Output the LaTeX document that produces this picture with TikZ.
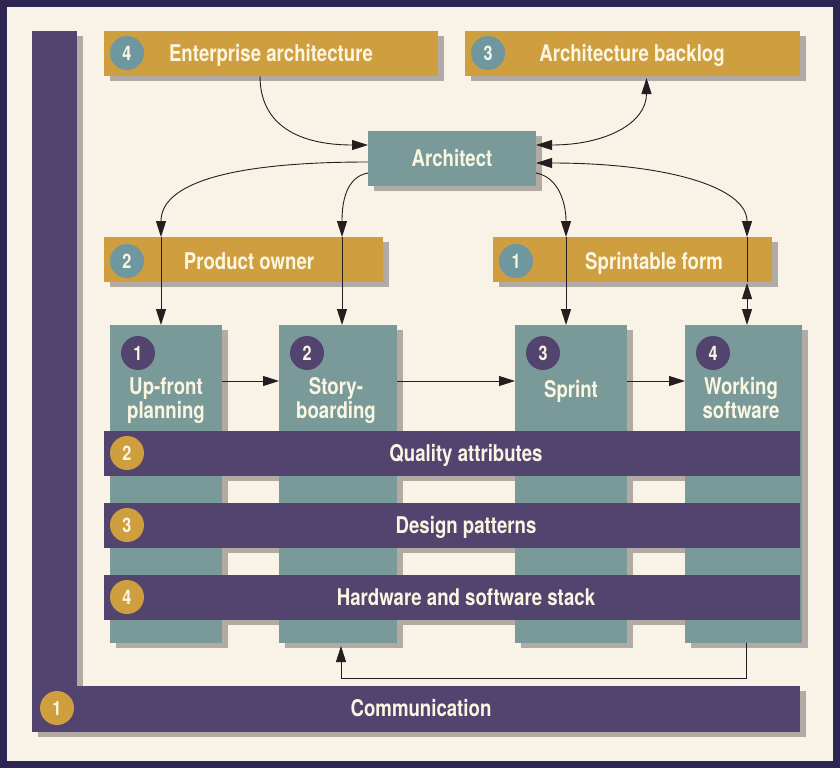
\documentclass[tikz,border=0pt]{standalone}
\usepackage{fontspec}
\newfontfamily\cf[FakeStretch=0.81]{TeX Gyre Heros}
\usetikzlibrary{arrows.meta,calc}
\definecolor{framec}{HTML}{2E2652}
\definecolor{creamc}{HTML}{F8F2E7}
\definecolor{purplec}{HTML}{52436F}
\definecolor{goldc}{HTML}{CF9E3F}
\definecolor{tealc}{HTML}{799A98}
\definecolor{steelc}{HTML}{6E97A0}
\definecolor{shadowc}{HTML}{B2AAA5}
\definecolor{txtc}{HTML}{FBF6E2}
\definecolor{linec}{HTML}{231F20}
\pgfdeclarelayer{bg}
\pgfdeclarelayer{shadow}
\pgfsetlayers{bg,shadow,main}
\tikzset{
  box/.style={inner sep=0pt, outer sep=0pt, anchor=north west, draw=none},
  lbl/.style={inner sep=0pt, anchor=base, text=txtc, font=\cf\bfseries\fontsize{23}{24}\selectfont},
  num/.style={circle, inner sep=0pt, minimum size=34pt, text=txtc, font=\cf\bfseries\fontsize{20}{20}\selectfont},
  conn/.style={draw=linec, line width=0.9pt, -{Triangle[length=16pt,width=10pt]}},
  connb/.style={draw=linec, line width=0.9pt, {Triangle[length=16pt,width=10pt]}-{Triangle[length=16pt,width=10pt]}},
  plain/.style={draw=linec, line width=0.9pt}
}
\begin{document}
\begin{tikzpicture}[x=1pt,y=-1pt]
\useasboundingbox (0,0) rectangle (840,768);
\begin{pgfonlayer}{bg}
\fill[framec] (0,0) rectangle (840,768);
\fill[creamc] (7,7) rectangle (833,761);
\end{pgfonlayer}

% columns
\node[box, fill=tealc, minimum width=112pt, minimum height=318pt] (c1) at (110,325) {};
\node[box, fill=tealc, minimum width=118pt, minimum height=318pt] (c2) at (279,325) {};
\node[box, fill=tealc, minimum width=112pt, minimum height=318pt] (c3) at (515,325) {};
\node[box, fill=tealc, minimum width=117pt, minimum height=318pt] (c4) at (685,325) {};

% L-shaped communication bar
\node[box, fill=purplec, minimum width=45pt, minimum height=660pt] (vbar) at (32,31) {};
\node[box, fill=purplec, minimum width=768pt, minimum height=46pt] (comm) at (32,686) {};

% top boxes
\node[box, fill=goldc, minimum width=334pt, minimum height=45pt] (ea) at (104,31) {};
\node[box, fill=goldc, minimum width=335pt, minimum height=45pt] (ab) at (465,31) {};
\node[box, fill=tealc, minimum width=168pt, minimum height=55pt] (arch) at (368,131) {};
\node[box, fill=goldc, minimum width=279pt, minimum height=45pt] (po) at (104,237) {};
\node[box, fill=goldc, minimum width=279pt, minimum height=45pt] (sf) at (493,237) {};

% horizontal bars
\node[box, fill=purplec, minimum width=696pt, minimum height=45pt] (qa) at (104,431) {};
\node[box, fill=purplec, minimum width=696pt, minimum height=45pt] (dp) at (104,503) {};
\node[box, fill=purplec, minimum width=696pt, minimum height=45pt] (hs) at (104,575) {};

% shadows
\begin{pgfonlayer}{shadow}
\foreach \n in {c1,c2,c3,c4,vbar,comm,ea,ab,arch,po,sf,qa,dp,hs}
  \fill[shadowc] ([shift={(6,5)}]\n.north west) rectangle ([shift={(6,5)}]\n.south east);
\end{pgfonlayer}

% labels
\node[lbl] (eat) at (271,61) {Enterprise architecture};
\node[lbl] (abt) at (632,61) {Architecture backlog};
\node[lbl] (archt) at (452,166.5) {Architect};
\node[lbl] (pot) at (249,269.5) {Product owner};
\node[lbl] (sft) at (654,269.5) {Sprintable form};
\node[lbl] (c1a) at (166,394) {Up-front};
\node[lbl] (c1b) at (166,418) {planning};
\node[lbl] (c2a) at (336,394) {Story-};
\node[lbl] (c2b) at (336,418) {boarding};
\node[lbl] (c3a) at (571,397) {Sprint};
\node[lbl] (c4a) at (741,394) {Working};
\node[lbl] (c4b) at (741,418) {software};
\node[lbl] (qat) at (466,461.5) {Quality attributes};
\node[lbl] (dpt) at (466,533.5) {Design patterns};
\node[lbl] (hst) at (466,605.5) {Hardware and software stack};
\node[lbl] (commt) at (421,716.5) {Communication};

% number circles
\node[num, fill=steelc] (n1) at (127,53) {4};
\node[num, fill=steelc] (n2) at (488,53) {3};
\node[num, fill=steelc] (n3) at (127,261) {2};
\node[num, fill=steelc] (n4) at (516,261) {1};
\node[num, fill=purplec] (n5) at (138,353) {1};
\node[num, fill=purplec] (n6) at (307,353) {2};
\node[num, fill=purplec] (n7) at (543,353) {3};
\node[num, fill=purplec] (n8) at (713,353) {4};
\node[num, fill=goldc] (n9) at (127,453) {2};
\node[num, fill=goldc] (n10) at (127,525) {3};
\node[num, fill=goldc] (n11) at (127,597) {4};
\node[num, fill=goldc] (n12) at (57,708) {1};

% connectors
\draw[conn] ([xshift=-11pt]ea.south) .. controls +(0,55) and +(-60,0) .. ([yshift=13.5pt]arch.west);
\draw[connb] ([yshift=13.5pt]arch.east) .. controls +(70,0) and +(0,45) .. ([xshift=14pt,yshift=-2pt]ab.south);
\draw[conn] ([yshift=-3.5pt]arch.west) .. controls +(-150,0) and +(0,-50) .. ($(c1.north |- po.north)+(-5,0)$);
\draw[conn] ([yshift=-14.5pt]arch.west) .. controls +(-22,4) and +(0,-35) .. ($(c2.north |- po.north)+(4,0)$);
\draw[conn] ([yshift=-14.5pt]arch.east) .. controls +(22,4) and +(0,-35) .. ($(c3.north |- sf.north)+(-5,0)$);
\draw[connb] ([yshift=-4.5pt]arch.east) .. controls +(130,0) and +(0,-50) .. ($(c4.north |- sf.north)+(3.5,0)$);

\draw[conn] ($(c1.north |- po.north)+(-5,0)$) -- ($(c1.north)+(-5,0)$);
\draw[conn] ($(c2.north |- po.north)+(4,0)$) -- ($(c2.north)+(4,0)$);
\draw[conn] ($(c3.north |- sf.north)+(-5,0)$) -- ($(c3.north)+(-5,0)$);
\draw[plain] ($(c4.north |- sf.north)+(3.5,0)$) -- ($(c4.north |- sf.south)+(3.5,0)$);
\draw[connb] ($(c4.north |- sf.south)+(3.5,1)$) -- ($(c4.north)+(3.5,0)$);

\coordinate (rowy) at (0,381);
\draw[conn] (c1.east |- rowy) -- (c2.west |- rowy);
\draw[conn] (c2.east |- rowy) -- (c3.west |- rowy);
\draw[conn] (c3.east |- rowy) -- (c4.west |- rowy);

\coordinate (fb) at (0,678);
\draw[conn] ($(c4.south)+(3,0)$) -- ($(c4.south |- fb)+(3,0)$) -- ($(c2.south |- fb)+(3,0)$) -- ($(c2.south)+(3,3)$);
\end{tikzpicture}
\end{document}
